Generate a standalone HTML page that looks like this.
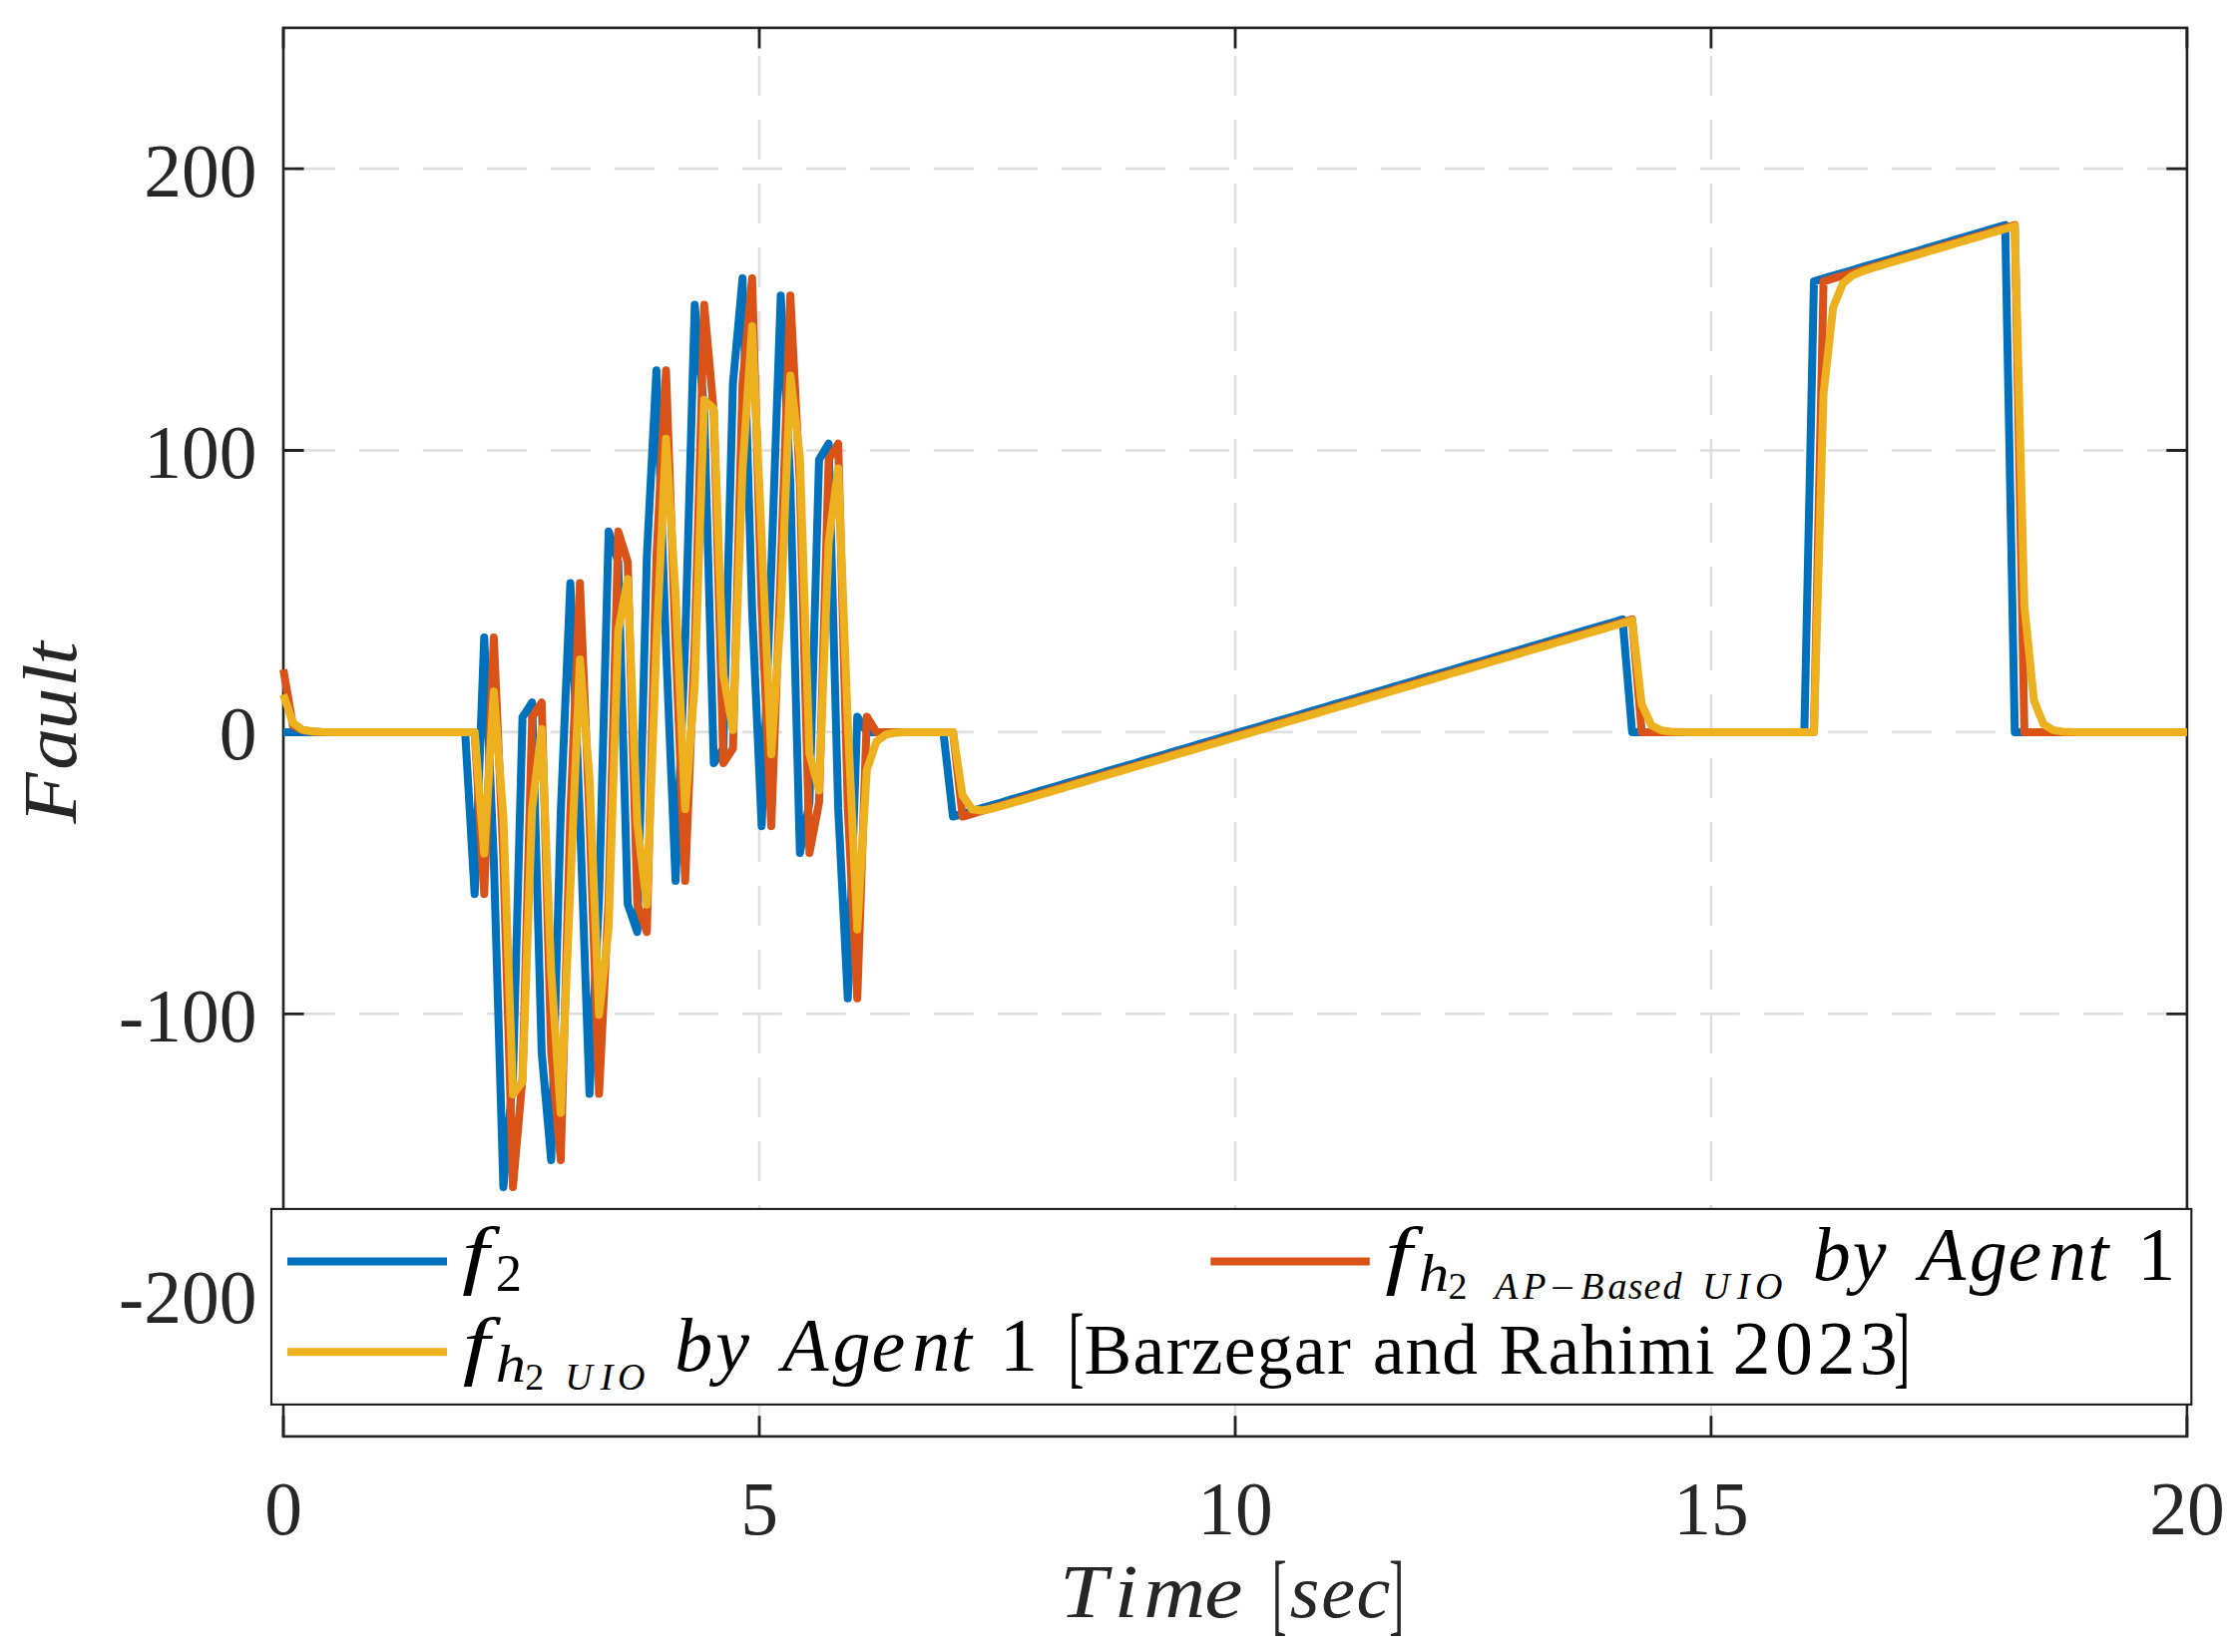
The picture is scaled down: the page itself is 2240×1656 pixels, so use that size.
<!DOCTYPE html>
<html><head><meta charset="utf-8"><title>Fault</title>
<style>html,body{margin:0;padding:0;background:#fff}svg{display:block}</style></head>
<body><svg width="2240" height="1656" viewBox="0 0 2240 1656">
<rect width="2240" height="1656" fill="#fff"/>
<line x1="284.0" x2="2191.9" y1="169.1" y2="169.1" stroke="#dedede" stroke-width="2.6" stroke-dasharray="40 24" stroke-dashoffset="52.2"/>
<line x1="284.0" x2="2191.9" y1="451.5" y2="451.5" stroke="#dedede" stroke-width="2.6" stroke-dasharray="40 24" stroke-dashoffset="52.2"/>
<line x1="284.0" x2="2191.9" y1="733.9" y2="733.9" stroke="#dedede" stroke-width="2.6" stroke-dasharray="40 24" stroke-dashoffset="52.2"/>
<line x1="284.0" x2="2191.9" y1="1016.3" y2="1016.3" stroke="#dedede" stroke-width="2.6" stroke-dasharray="40 24" stroke-dashoffset="52.2"/>
<line x1="284.0" x2="2191.9" y1="1298.7" y2="1298.7" stroke="#dedede" stroke-width="2.6" stroke-dasharray="40 24" stroke-dashoffset="52.2"/>
<line x1="761.0" x2="761.0" y1="27.9" y2="1439.9" stroke="#dedede" stroke-width="2.6" stroke-dasharray="40 24" stroke-dashoffset="35.9"/>
<line x1="1238.0" x2="1238.0" y1="27.9" y2="1439.9" stroke="#dedede" stroke-width="2.6" stroke-dasharray="40 24" stroke-dashoffset="35.9"/>
<line x1="1714.9" x2="1714.9" y1="27.9" y2="1439.9" stroke="#dedede" stroke-width="2.6" stroke-dasharray="40 24" stroke-dashoffset="35.9"/>
<rect x="284.0" y="27.9" width="1907.9" height="1412.0" fill="none" stroke="#222222" stroke-width="2.6"/>
<path d="M284.0 169.1h20.6M2191.9 169.1h-20.6" stroke="#222222" stroke-width="2.8" fill="none"/>
<path d="M284.0 451.5h20.6M2191.9 451.5h-20.6" stroke="#222222" stroke-width="2.8" fill="none"/>
<path d="M284.0 733.9h20.6M2191.9 733.9h-20.6" stroke="#222222" stroke-width="2.8" fill="none"/>
<path d="M284.0 1016.3h20.6M2191.9 1016.3h-20.6" stroke="#222222" stroke-width="2.8" fill="none"/>
<path d="M284.0 1298.7h20.6M2191.9 1298.7h-20.6" stroke="#222222" stroke-width="2.8" fill="none"/>
<path d="M284.0 27.9v20.6M284.0 1439.9v-20.6" stroke="#222222" stroke-width="2.8" fill="none"/>
<path d="M761.0 27.9v20.6M761.0 1439.9v-20.6" stroke="#222222" stroke-width="2.8" fill="none"/>
<path d="M1238.0 27.9v20.6M1238.0 1439.9v-20.6" stroke="#222222" stroke-width="2.8" fill="none"/>
<path d="M1714.9 27.9v20.6M1714.9 1439.9v-20.6" stroke="#222222" stroke-width="2.8" fill="none"/>
<path d="M2191.9 27.9v20.6M2191.9 1439.9v-20.6" stroke="#222222" stroke-width="2.8" fill="none"/>
<polyline points="284.0,733.9 293.6,733.9 303.2,733.9 312.8,733.9 322.3,733.9 331.9,733.9 341.5,733.9 351.1,733.9 360.7,733.9 370.3,733.9 379.9,733.9 389.5,733.9 399.0,733.9 408.6,733.9 418.2,733.9 427.8,733.9 437.4,733.9 447.0,733.9 456.6,733.9 466.2,733.9 475.7,896.2 485.3,639.0 494.9,861.1 504.5,1190.0 514.1,1080.0 523.7,718.9 533.3,704.2 542.9,1055.2 552.4,1162.9 562.0,815.7 571.6,584.5 581.2,819.3 590.8,1096.5 600.4,901.1 610.0,532.8 619.6,563.2 629.1,906.2 638.7,934.1 648.3,558.2 657.9,371.3 667.5,647.3 677.1,883.0 686.7,645.0 696.3,305.5 705.8,413.1 715.4,765.0 725.0,750.3 734.6,384.5 744.2,279.0 753.8,611.1 763.4,828.2 773.0,570.6 782.5,296.2 792.1,484.7 801.7,855.0 811.3,804.5 820.9,460.8 830.5,444.7 840.1,810.2 849.7,1000.8 859.2,718.4 868.8,733.9 878.4,733.9 888.0,733.9 897.6,733.9 907.2,733.9 916.8,733.9 926.4,733.9 935.9,733.9 945.5,733.9 955.1,818.6 964.7,815.8 974.3,813.0 983.9,810.1 993.5,807.3 1003.1,804.5 1012.6,801.7 1022.2,798.9 1031.8,796.0 1041.4,793.2 1051.0,790.4 1060.6,787.6 1070.2,784.7 1079.8,781.9 1089.3,779.1 1098.9,776.3 1108.5,773.4 1118.1,770.6 1127.7,767.8 1137.3,765.0 1146.9,762.1 1156.5,759.3 1166.0,756.5 1175.6,753.7 1185.2,750.8 1194.8,748.0 1204.4,745.2 1214.0,742.4 1223.6,739.5 1233.2,736.7 1242.7,733.9 1252.3,731.1 1261.9,728.3 1271.5,725.4 1281.1,722.6 1290.7,719.8 1300.3,717.0 1309.9,714.1 1319.4,711.3 1329.0,708.5 1338.6,705.7 1348.2,702.8 1357.8,700.0 1367.4,697.2 1377.0,694.4 1386.6,691.5 1396.1,688.7 1405.7,685.9 1415.3,683.1 1424.9,680.2 1434.5,677.4 1444.1,674.6 1453.7,671.8 1463.3,668.9 1472.8,666.1 1482.4,663.3 1492.0,660.5 1501.6,657.7 1511.2,654.8 1520.8,652.0 1530.4,649.2 1540.0,646.4 1549.5,643.5 1559.1,640.7 1568.7,637.9 1578.3,635.1 1587.9,632.2 1597.5,629.4 1607.1,626.6 1616.7,623.8 1626.2,620.9 1635.8,733.9 1645.4,733.9 1655.0,733.9 1664.6,733.9 1674.2,733.9 1683.8,733.9 1693.4,733.9 1702.9,733.9 1712.5,733.9 1722.1,733.9 1731.7,733.9 1741.3,733.9 1750.9,733.9 1760.5,733.9 1770.1,733.9 1779.6,733.9 1789.2,733.9 1798.8,733.9 1808.4,733.9 1818.0,282.1 1827.6,279.2 1837.2,276.4 1846.8,273.6 1856.3,270.8 1865.9,267.9 1875.5,265.1 1885.1,262.3 1894.7,259.5 1904.3,256.6 1913.9,253.8 1923.5,251.0 1933.0,248.2 1942.6,245.3 1952.2,242.5 1961.8,239.7 1971.4,236.9 1981.0,234.1 1990.6,231.2 2000.2,228.4 2009.7,225.6 2019.3,733.9 2028.9,733.9 2038.5,733.9 2048.1,733.9 2057.7,733.9 2067.3,733.9 2076.9,733.9 2086.4,733.9 2096.0,733.9 2105.6,733.9 2115.2,733.9 2124.8,733.9 2134.4,733.9 2144.0,733.9 2153.6,733.9 2163.1,733.9 2172.7,733.9 2182.3,733.9 2191.9,733.9" fill="none" stroke="#0072BD" stroke-width="8" stroke-linejoin="round" stroke-linecap="butt"/>
<polyline points="284.0,671.2 293.6,727.4 303.2,731.9 312.8,733.3 322.3,733.9 331.9,733.9 341.5,733.9 351.1,733.9 360.7,733.9 370.3,733.9 379.9,733.9 389.5,733.9 399.0,733.9 408.6,733.9 418.2,733.9 427.8,733.9 437.4,733.9 447.0,733.9 456.6,733.9 466.2,733.9 475.7,733.9 485.3,896.2 494.9,639.0 504.5,861.1 514.1,1190.0 523.7,1080.0 533.3,718.9 542.9,704.2 552.4,1055.2 562.0,1162.9 571.6,815.7 581.2,584.5 590.8,819.3 600.4,1096.5 610.0,901.1 619.6,532.8 629.1,563.2 638.7,906.2 648.3,934.1 657.9,558.2 667.5,371.3 677.1,647.3 686.7,883.0 696.3,645.0 705.8,305.5 715.4,413.1 725.0,765.0 734.6,750.3 744.2,384.5 753.8,279.0 763.4,611.1 773.0,828.2 782.5,570.6 792.1,296.2 801.7,484.7 811.3,855.0 820.9,804.5 830.5,460.8 840.1,444.7 849.7,810.2 859.2,1000.8 868.8,718.4 878.4,733.9 888.0,733.9 897.6,733.9 907.2,733.9 916.8,733.9 926.4,733.9 935.9,733.9 945.5,733.9 955.1,733.9 964.7,818.6 974.3,815.8 983.9,813.0 993.5,810.1 1003.1,807.3 1012.6,804.5 1022.2,801.7 1031.8,798.9 1041.4,796.0 1051.0,793.2 1060.6,790.4 1070.2,787.6 1079.8,784.7 1089.3,781.9 1098.9,779.1 1108.5,776.3 1118.1,773.4 1127.7,770.6 1137.3,767.8 1146.9,765.0 1156.5,762.1 1166.0,759.3 1175.6,756.5 1185.2,753.7 1194.8,750.8 1204.4,748.0 1214.0,745.2 1223.6,742.4 1233.2,739.5 1242.7,736.7 1252.3,733.9 1261.9,731.1 1271.5,728.3 1281.1,725.4 1290.7,722.6 1300.3,719.8 1309.9,717.0 1319.4,714.1 1329.0,711.3 1338.6,708.5 1348.2,705.7 1357.8,702.8 1367.4,700.0 1377.0,697.2 1386.6,694.4 1396.1,691.5 1405.7,688.7 1415.3,685.9 1424.9,683.1 1434.5,680.2 1444.1,677.4 1453.7,674.6 1463.3,671.8 1472.8,668.9 1482.4,666.1 1492.0,663.3 1501.6,660.5 1511.2,657.7 1520.8,654.8 1530.4,652.0 1540.0,649.2 1549.5,646.4 1559.1,643.5 1568.7,640.7 1578.3,637.9 1587.9,635.1 1597.5,632.2 1607.1,629.4 1616.7,626.6 1626.2,623.8 1635.8,620.9 1645.4,733.9 1655.0,733.9 1664.6,733.9 1674.2,733.9 1683.8,733.9 1693.4,733.9 1702.9,733.9 1712.5,733.9 1722.1,733.9 1731.7,733.9 1741.3,733.9 1750.9,733.9 1760.5,733.9 1770.1,733.9 1779.6,733.9 1789.2,733.9 1798.8,733.9 1808.4,733.9 1818.0,733.9 1827.6,282.1 1837.2,279.2 1846.8,276.4 1856.3,273.6 1865.9,270.8 1875.5,267.9 1885.1,265.1 1894.7,262.3 1904.3,259.5 1913.9,256.6 1923.5,253.8 1933.0,251.0 1942.6,248.2 1952.2,245.3 1961.8,242.5 1971.4,239.7 1981.0,236.9 1990.6,234.1 2000.2,231.2 2009.7,228.4 2019.3,225.6 2028.9,733.9 2038.5,733.9 2048.1,733.9 2057.7,733.9 2067.3,733.9 2076.9,733.9 2086.4,733.9 2096.0,733.9 2105.6,733.9 2115.2,733.9 2124.8,733.9 2134.4,733.9 2144.0,733.9 2153.6,733.9 2163.1,733.9 2172.7,733.9 2182.3,733.9 2191.9,733.9" fill="none" stroke="#D95319" stroke-width="8" stroke-linejoin="round" stroke-linecap="butt"/>
<polyline points="284.0,696.3 293.6,724.5 303.2,731.6 312.8,733.3 322.3,733.8 331.9,733.9 341.5,733.9 351.1,733.9 360.7,733.9 370.3,733.9 379.9,733.9 389.5,733.9 399.0,733.9 408.6,733.9 418.2,733.9 427.8,733.9 437.4,733.9 447.0,733.9 456.6,733.9 466.2,733.9 475.7,733.9 485.3,855.6 494.9,693.2 504.5,819.1 514.1,1097.2 523.7,1084.3 533.3,810.3 542.9,730.8 552.4,974.1 562.0,1115.7 571.6,890.7 581.2,661.1 590.8,779.7 600.4,1017.3 610.0,930.1 619.6,632.2 629.1,580.5 638.7,824.7 648.3,906.8 657.9,645.4 667.5,439.8 677.1,595.4 686.7,811.1 696.3,686.6 705.8,400.8 715.4,410.0 725.0,676.2 734.6,731.8 744.2,471.3 753.8,327.0 763.4,540.1 773.0,756.2 782.5,617.0 792.1,376.4 801.7,457.6 811.3,755.7 820.9,792.3 830.5,543.7 840.1,469.5 849.7,725.0 859.2,931.8 868.8,771.7 878.4,743.4 888.0,736.3 897.6,734.5 907.2,734.0 916.8,733.9 926.4,733.9 935.9,733.9 945.5,733.9 955.1,733.9 964.7,797.4 974.3,811.2 983.9,812.5 993.5,810.7 1003.1,808.2 1012.6,805.4 1022.2,802.6 1031.8,799.8 1041.4,797.0 1051.0,794.1 1060.6,791.3 1070.2,788.5 1079.8,785.7 1089.3,782.8 1098.9,780.0 1108.5,777.2 1118.1,774.4 1127.7,771.6 1137.3,768.7 1146.9,765.9 1156.5,763.1 1166.0,760.3 1175.6,757.4 1185.2,754.6 1194.8,751.8 1204.4,749.0 1214.0,746.1 1223.6,743.3 1233.2,740.5 1242.7,737.7 1252.3,734.8 1261.9,732.0 1271.5,729.2 1281.1,726.4 1290.7,723.5 1300.3,720.7 1309.9,717.9 1319.4,715.1 1329.0,712.2 1338.6,709.4 1348.2,706.6 1357.8,703.8 1367.4,701.0 1377.0,698.1 1386.6,695.3 1396.1,692.5 1405.7,689.7 1415.3,686.8 1424.9,684.0 1434.5,681.2 1444.1,678.4 1453.7,675.5 1463.3,672.7 1472.8,669.9 1482.4,667.1 1492.0,664.2 1501.6,661.4 1511.2,658.6 1520.8,655.8 1530.4,652.9 1540.0,650.1 1549.5,647.3 1559.1,644.5 1568.7,641.6 1578.3,638.8 1587.9,636.0 1597.5,633.2 1607.1,630.4 1616.7,627.5 1626.2,624.7 1635.8,621.9 1645.4,705.9 1655.0,726.9 1664.6,732.1 1674.2,733.5 1683.8,733.8 1693.4,733.9 1702.9,733.9 1712.5,733.9 1722.1,733.9 1731.7,733.9 1741.3,733.9 1750.9,733.9 1760.5,733.9 1770.1,733.9 1779.6,733.9 1789.2,733.9 1798.8,733.9 1808.4,733.9 1818.0,733.9 1827.6,395.0 1837.2,308.2 1846.8,284.4 1856.3,276.3 1865.9,272.1 1875.5,269.0 1885.1,266.1 1894.7,263.2 1904.3,260.4 1913.9,257.6 1923.5,254.8 1933.0,251.9 1942.6,249.1 1952.2,246.3 1961.8,243.5 1971.4,240.6 1981.0,237.8 1990.6,235.0 2000.2,232.2 2009.7,229.3 2019.3,226.5 2028.9,607.1 2038.5,702.2 2048.1,726.0 2057.7,731.9 2067.3,733.4 2076.9,733.8 2086.4,733.9 2096.0,733.9 2105.6,733.9 2115.2,733.9 2124.8,733.9 2134.4,733.9 2144.0,733.9 2153.6,733.9 2163.1,733.9 2172.7,733.9 2182.3,733.9 2191.9,733.9" fill="none" stroke="#EDB120" stroke-width="8" stroke-linejoin="round" stroke-linecap="butt"/>
<text x="257.5" y="196.6" text-anchor="end" style="font-family:'Liberation Serif',serif;font-size:75.5px;fill:#262626">200</text>
<text x="257.5" y="479.0" text-anchor="end" style="font-family:'Liberation Serif',serif;font-size:75.5px;fill:#262626">100</text>
<text x="257.5" y="761.4" text-anchor="end" style="font-family:'Liberation Serif',serif;font-size:75.5px;fill:#262626">0</text>
<text x="257.5" y="1043.8" text-anchor="end" style="font-family:'Liberation Serif',serif;font-size:75.5px;fill:#262626">-100</text>
<text x="257.5" y="1326.2" text-anchor="end" style="font-family:'Liberation Serif',serif;font-size:75.5px;fill:#262626">-200</text>
<text x="284.0" y="1538" text-anchor="middle" style="font-family:'Liberation Serif',serif;font-size:75.5px;fill:#262626">0</text>
<text x="761.0" y="1538" text-anchor="middle" style="font-family:'Liberation Serif',serif;font-size:75.5px;fill:#262626">5</text>
<text x="1238.0" y="1538" text-anchor="middle" style="font-family:'Liberation Serif',serif;font-size:75.5px;fill:#262626">10</text>
<text x="1714.9" y="1538" text-anchor="middle" style="font-family:'Liberation Serif',serif;font-size:75.5px;fill:#262626">15</text>
<text x="2191.9" y="1538" text-anchor="middle" style="font-family:'Liberation Serif',serif;font-size:75.5px;fill:#262626">20</text>
<text x="939.9 988.3 1014.4 1068.4" y="1621.1" style="font-family:'Liberation Serif',serif;font-size:76px;fill:#262626;font-style:italic;" transform="scale(1.13,1)">Time</text>
<text transform="translate(1275.07,1627.88) scale(0.573,1.192)" style="font-family:'Liberation Serif',serif;font-size:76px;fill:#262626">[</text>
<text x="1292.8 1324.2 1359.6" y="1621.1" style="font-family:'Liberation Serif',serif;font-size:76px;fill:#262626;font-style:italic;">sec</text>
<text transform="translate(1392.28,1627.88) scale(0.591,1.192)" style="font-family:'Liberation Serif',serif;font-size:76px;fill:#262626">]</text>
<text x="1.0 49.9 86.7 125.3 145.6" y="0.0" style="font-family:'Liberation Serif',serif;font-size:76px;fill:#262626;font-style:italic;" transform="translate(76,826.6) rotate(-90) scale(1.1,1)">Fault</text>
<rect x="272" y="1211.9" width="1924.3" height="196" fill="#fff" stroke="#1c1c1c" stroke-width="2.1"/>
<path d="M288 1264.6H448" stroke="#0072BD" stroke-width="8"/>
<path d="M1213.3 1264.6H1372.8" stroke="#D95319" stroke-width="8"/>
<path d="M288 1355.3H448" stroke="#EDB120" stroke-width="8"/>
<text x="361.8" y="1282.8" style="font-family:'Liberation Serif',serif;font-size:76px;fill:#000;font-style:italic;" transform="scale(1.28,1)">f</text>
<text x="496.7" y="1294.2" style="font-family:'Liberation Serif',serif;font-size:52.6px;fill:#000;">2</text>
<text x="1084.6" y="1282.8" style="font-family:'Liberation Serif',serif;font-size:76px;fill:#000;font-style:italic;" transform="scale(1.28,1)">f</text>
<text x="1236.5" y="1294.1" style="font-family:'Liberation Serif',serif;font-size:52.6px;fill:#000;font-style:italic;" transform="scale(1.15,1)">h</text>
<text x="1451.4" y="1301.8" style="font-family:'Liberation Serif',serif;font-size:38px;fill:#000;">2</text>
<text x="1498.0 1526.3" y="1302.0" style="font-family:'Liberation Serif',serif;font-size:38px;fill:#000;font-style:italic;">AP</text>
<text x="1554" y="1304.0" textLength="24" lengthAdjust="spacingAndGlyphs" style="font-family:'Liberation Serif',serif;font-size:38px;fill:#000">−</text>
<text x="1584.2 1611.5 1631.8 1647.6 1666.5" y="1302.0" style="font-family:'Liberation Serif',serif;font-size:38px;fill:#000;font-style:italic;">Based</text>
<text x="1706.0 1740.9 1759.0" y="1302.0" style="font-family:'Liberation Serif',serif;font-size:38px;fill:#000;font-style:italic;">UIO</text>
<text x="1816.8 1856.8" y="1282.8" style="font-family:'Liberation Serif',serif;font-size:76px;fill:#000;font-style:italic;">by</text>
<text x="1923.8 1973.7 2012.4 2053.1 2092.3" y="1282.8" style="font-family:'Liberation Serif',serif;font-size:76px;fill:#000;font-style:italic;">Agent</text>
<text x="2142.3" y="1282.8" style="font-family:'Liberation Serif',serif;font-size:76px;fill:#000;">1</text>
<text x="362.3" y="1373.6" style="font-family:'Liberation Serif',serif;font-size:76px;fill:#000;font-style:italic;" transform="scale(1.28,1)">f</text>
<text x="431.9" y="1384.9" style="font-family:'Liberation Serif',serif;font-size:52.6px;fill:#000;font-style:italic;" transform="scale(1.15,1)">h</text>
<text x="526.2" y="1392.6" style="font-family:'Liberation Serif',serif;font-size:38px;fill:#000;">2</text>
<text x="566.3 601.7 619.0" y="1392.8" style="font-family:'Liberation Serif',serif;font-size:38px;fill:#000;font-style:italic;">UIO</text>
<text x="676.2 717.3" y="1373.6" style="font-family:'Liberation Serif',serif;font-size:76px;fill:#000;font-style:italic;">by</text>
<text x="784.0 834.5 873.4 914.2 952.7" y="1373.6" style="font-family:'Liberation Serif',serif;font-size:76px;fill:#000;font-style:italic;">Agent</text>
<text x="1002.0" y="1373.6" style="font-family:'Liberation Serif',serif;font-size:76px;fill:#000;">1</text>
<text transform="translate(1070.70,1380.10) scale(0.620,1.200)" style="font-family:'Liberation Serif',serif;font-size:76px;fill:#000">[</text>
<text x="1086.6" y="1376.8" textLength="267.1" lengthAdjust="spacing" style="font-family:'Liberation Serif',serif;font-size:71.5px;fill:#000;">Barzegar</text>
<text x="1375.7" y="1376.8" textLength="105.3" lengthAdjust="spacing" style="font-family:'Liberation Serif',serif;font-size:71.5px;fill:#000;">and</text>
<text x="1502.6" y="1376.8" textLength="216.0" lengthAdjust="spacing" style="font-family:'Liberation Serif',serif;font-size:71.5px;fill:#000;">Rahimi</text>
<text x="1736.6" y="1376.5" textLength="165.2" lengthAdjust="spacing" style="font-family:'Liberation Serif',serif;font-size:76px;fill:#000;">2023</text>
<text transform="translate(1898.16,1380.13) scale(0.632,1.207)" style="font-family:'Liberation Serif',serif;font-size:76px;fill:#000">]</text>
</svg></body></html>
